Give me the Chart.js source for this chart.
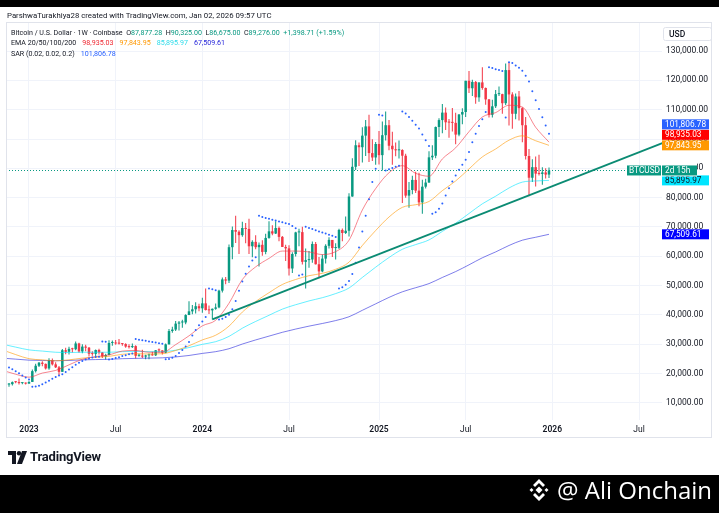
<!DOCTYPE html>
<html>
<head>
<meta charset="utf-8">
<title>BTCUSD 1W</title>
<script src="https://cdn.jsdelivr.net/npm/chart.js@4.4.1/dist/chart.umd.min.js"></script>
<style>
  html, body { margin: 0; padding: 0; background: #fff; }
  body { width: 719px; height: 513px; position: relative; overflow: hidden;
         font-family: Roboto, "Liberation Sans", sans-serif; color: #131722; }
  #chart { position: absolute; left: 0; top: 0; }
  .band { position: absolute; left: 0; width: 719px; background: #000; }
  .txt { position: absolute; white-space: nowrap; line-height: 1; }
  .legend { font-size: 7.1px; }
  .legend span { margin-left: 3.5px; }
  .legend.wide span { margin-left: 6px; }
  .up { color: #089981; }
</style>
</head>
<body>
<canvas id="chart" width="719" height="513"></canvas>

<div class="band" style="top:0;height:7px"></div>
<div class="txt" style="left:7px;top:12px;font-size:7.8px">ParshwaTurakhiya28 created with TradingView.com, Jan 02, 2026 09:57 UTC</div>
<div class="txt legend" style="left:11px;top:28.7px">Bitcoin / U.S. Dollar · 1W · Coinbase<span>O<b class="up" style="font-weight:400">87,877.28</b></span><span>H<b class="up" style="font-weight:400">90,325.00</b></span><span>L<b class="up" style="font-weight:400">86,675.00</b></span><span>C<b class="up" style="font-weight:400">89,276.00</b></span><span class="up">+1,398.71 (+1.59%)</span></div>
<div class="txt legend wide" style="left:11px;top:39.4px">EMA 20/50/100/200<span style="color:#f0262f">98,935.03</span><span style="color:#ff9800">97,843.95</span><span style="color:#2fdcea">85,895.97</span><span style="color:#1d1dd8">67,509.61</span></div>
<div class="txt legend wide" style="left:11px;top:49.7px">SAR (0.02, 0.02, 0.2)<span style="color:#2962ff">101,806.78</span></div>

<svg style="position:absolute;left:8px;top:451px" width="19" height="13" viewBox="0 0 19 13">
  <path d="M0 0h8v13h-4v-9h-4z" fill="#131722"/>
  <circle cx="11" cy="2.2" r="2.2" fill="#131722"/>
  <path d="M14 0h5l-5 13h-5z" fill="#131722"/>
</svg>
<div class="txt" style="left:30px;top:450px;font-size:13px;font-weight:700;letter-spacing:-0.2px">TradingView</div>

<div class="band" style="top:475px;height:38px"></div>
<svg style="position:absolute;left:527px;top:478px" width="24" height="24" viewBox="0 0 24 24">
  <g fill="#fff">
    <path d="M12 8.5l3.5 3.5-3.5 3.5-3.5-3.5z"/>
    <path d="M12 1l6 6-2 2-4-4-4 4-2-2z"/>
    <path d="M12 23l6-6-2-2-4 4-4-4-2 2z"/>
    <path d="M2.5 12l2-2 2 2-2 2z"/>
    <path d="M21.5 12l-2-2-2 2 2 2z"/>
  </g>
</svg>
<div class="txt" style="left:557px;top:478px;font-size:24px;color:#fff;font-family:'Open Sans',Roboto,sans-serif">@ Ali Onchain</div>

<script>
// weeks are counted from the week of 2 Jan 2023 (week 0); first candle is 21 Nov 2022
const firstWeek = -6;

// weekly candles [open, high, low, close], Coinbase BTC/USD
const candles = [
  [16290,16810,15510,16430],[16430,17320,16000,17110],[17110,17430,16750,17100],[17100,18390,16300,16780],
  [16780,16960,16400,16840],[16840,16970,16330,16610],
  // 2023
  [16610,17400,16540,17180],[17180,21440,17150,20860],[20860,23360,20410,22700],[22700,23950,22300,23740],
  [23740,24250,22550,23330],[23330,23440,21450,21780],[21780,25250,21350,24630],[24630,25130,22750,23170],
  [23170,23880,21970,22160],[22160,22600,19570,20620],[20620,28380,20610,27990],[27990,28870,26600,27470],
  [27470,29190,26530,28450],[28450,28800,27200,28320],[28320,31000,28000,30300],[30300,30500,27150,27580],
  [27580,30020,26950,29230],[29230,29850,27680,28850],[28850,29100,25810,26780],[26780,27650,26130,26750],
  [26750,28250,25880,28070],[28070,28450,26520,27230],[27230,27400,25350,25840],[25840,26800,24800,26340],
  [26340,31400,26250,30470],[30470,31280,29530,30580],[30580,31500,29850,30290],[30290,31800,29950,30240],
  [30240,30420,29550,30080],[30080,30330,28860,29230],[29230,30050,28580,29050],[29050,30240,28730,29400],
  [29400,29670,25170,26090],[26090,26800,25800,26100],[26100,28150,25350,25820],[25820,26450,24900,26220],
  [26220,26890,24930,26530],[26530,27480,26130,26250],[26250,28050,26000,27970],[27970,28600,27250,27930],
  [27930,27980,26540,27150],[27150,30300,26980,29990],[29990,35200,29900,34530],[34530,35980,33940,35030],
  [35030,37970,34530,37060],[37060,37980,34750,37450],[37450,38420,35630,37450],[37450,40250,36850,39980],
  [39980,44700,39980,41250],[41250,43400,40220,41940],[41940,44380,40550,43000],[43000,43820,41300,42280],
  // 2024
  [42280,45920,40750,43970],[43970,49000,41500,41700],[41700,43200,40300,41580],[41580,42250,38500,42120],
  [42120,43880,41800,42580],[42580,48600,42260,48300],[48300,52800,47700,52140],[52140,52980,50520,51730],
  [51730,64000,50900,63120],[63120,70170,59000,68960],[68960,73800,64550,68390],[68390,68900,60800,67220],
  [67220,71760,66650,69650],[69650,71340,64500,69350],[69350,72800,60800,63430],[63430,65500,59700,64940],
  [64940,67200,62440,63120],[63120,64700,56500,63930],[63930,65500,60200,61500],[61500,67700,60750,66270],
  [66270,71980,66000,68530],[68530,70600,67150,67770],[67770,71990,67600,69650],[69650,70200,65100,66630],
  [66630,66950,63150,63200],[63200,63950,58400,62720],[62720,63800,53500,55850],[55850,61400,54300,60800],
  [60800,68400,59900,68160],[68160,69400,63400,68250],[68250,70100,57200,58120],[58120,62700,49050,58710],
  [58710,61800,56100,58930],[58930,65050,57800,64220],[64220,64900,57200,57300],[57300,59800,52550,54860],
  [54860,60600,54600,59220],[59220,64100,57550,63580],[63580,66500,62700,65600],[65600,65600,59800,62820],
  [62820,64500,58900,62900],[62900,69400,62500,69000],[69000,69500,65100,67950],[67950,73600,67600,68720],
  [68720,81500,66800,80400],[80400,93480,80300,90530],[90530,99600,89400,97870],[97870,98800,90800,97200],
  [97200,104000,92000,101150],[101150,106500,94200,104300],[104300,108300,92200,95200],[95200,99900,92500,93700],
  [93700,99000,91200,98300],
  // 2025
  [98300,102700,91300,94500],[94500,106000,89300,101300],[101300,109350,99500,104700],[104700,106450,96200,97700],
  [97700,102500,91200,96500],[96500,98800,94100,96150],[96150,99500,93350,96250],[96250,96500,78200,94300],
  [94300,95000,80000,80700],[80700,85300,76600,82600],[82600,87450,81150,86050],[86050,88800,81600,82400],
  [82400,88500,77100,78400],[78400,86100,74500,83750],[83750,86450,83100,85150],[85150,95800,85100,93750],
  [93750,97900,92800,94300],[94300,104300,93400,104100],[104100,107100,100700,106450],[106450,111970,102000,109000],
  [109000,110700,103100,105700],[105700,106800,100400,105600],[105600,110600,102600,105500],[105500,108950,98200,101500],
  [101500,108500,100900,108350],[108350,110500,105050,109200],[109200,119900,107500,119850],[119850,123200,115700,117300],
  [117300,120200,114700,119450],[119450,119800,112000,114200],[114200,119300,112700,119300],[119300,124500,116800,117400],
  [117400,117600,111700,113500],[113500,113600,107300,108250],[108250,113400,107300,111150],[111150,116700,110600,115300],
  [115300,117900,114700,115300],[115300,115400,108600,112200],[112200,125700,111600,123500],[123500,126200,104600,115200],
  [115200,115900,103500,108600],[108600,115500,106700,114500],[114500,116400,106300,110500],[110500,110800,98900,104700],
  [104700,107500,93000,94200],[94200,96600,80500,86800],[86800,93100,85300,90400],[90400,94000,83800,88200],
  [88200,94600,87600,88100],[88100,90400,84400,88600],[88600,90000,86500,87877.28],[87877.28,90325,86675,89276]
];

// parabolic SAR, one dot per candle
const sar = [
  22100,21500,20800,20100,19400,18700,18000,
  15500,15600,15900,16400,17000,17600,18300,18900,19400,19800,20600,21400,22200,23000,23700,24300,24800,25200,25500,25700,25800,
  31000,30900,
  24800,25000,25300,25600,26000,26300,26600,26900,
  31800,31600,31400,31200,31000,30800,30600,30400,30200,
  24900,25000,25400,26000,27000,28100,29300,30800,33000,34900,36500,37800,39300,
  49000,48800,48400,
  38500,38700,39300,40100,42000,44800,48300,51400,54100,56500,58600,59700,
  73800,73450,73100,72800,72500,72200,71900,71600,71300,71000,70300,69600,
  53500,53800,
  70100,69700,69300,68900,68500,68100,67800,67400,67000,66600,
  49050,49500,50300,51600,54000,57800,63000,68500,73800,79500,85300,89900,
  108300,108000,
  89300,89700,90100,90500,90900,
  109350,108700,107500,106200,104900,103600,101500,99600,97600,
  74500,75000,76200,78000,80700,83200,85500,87600,89500,91200,92900,95600,98900,101800,104400,106700,109200,
  124500,124200,123800,123500,123200,
  107300,
  126200,125900,125100,124300,123300,121600,119600,116300,113200,110200,107400,104600,101806.78
];

// EMA readings, sampled every four weeks
const emaWeeks = [-7,-4,0,4,8,12,16,20,24,28,32,36,40,44,48,52,56,60,64,68,72,76,80,84,88,92,96,100,104,108,112,116,120,124,128,132,136,140,144,148,152,156];
const ema20 = [20800,19800,18800,20200,21100,23000,24900,25800,26400,27700,27900,27300,27300,29900,32900,36300,38200,44000,52100,56400,59300,61800,61800,61500,60600,61600,65500,75800,83100,88500,90900,88300,87300,93200,97000,102500,107500,109000,111500,110900,104000,98935.03];
const ema50 = [27700,26500,25100,24700,24400,24700,25300,25600,25900,26600,26800,26700,26800,27900,29500,31500,33100,36200,41000,44600,47600,50400,52100,53400,54200,55600,58000,63700,68800,73400,76700,77600,78700,82400,85700,89800,93900,96600,99600,101100,99400,97843.95];
const ema100 = [29800,29050,28100,27700,27300,27200,27300,27300,27300,27500,27600,27500,27500,28000,28900,30000,30900,32700,35500,37800,39900,42000,43500,44800,45900,47300,49200,52800,56300,59600,62400,64000,65600,68500,71300,74600,77900,80500,83300,85300,85700,85895.97];
const ema200 = [25200,24950,24600,24500,24400,24500,24700,24800,24900,25100,25200,25300,25400,25700,26200,26900,27500,28500,30100,31500,32800,34100,35200,36200,37100,38100,39400,41600,43800,46000,47900,49300,50700,52800,54800,57100,59500,61500,63700,65500,66500,67509.61];

// support trendline drawn on the chart (week, price)
const trendWeeks = [55, 190];
const trendPrices = [38500, 98600];

// axis ticks
const xTickWeeks = [0, 26, 52, 78, 105, 131, 157, 183];
const xTickLabels = ["2023", "Jul", "2024", "Jul", "2025", "Jul", "2026", "Jul"];
const priceTicks = [10000, 20000, 30000, 40000, 50000, 60000, 70000, 80000, 90000, 100000, 110000, 120000, 130000];

const UP = "#089981";
const DOWN = "#f23645";
const FONT = "Roboto, 'Liberation Sans', sans-serif";

const fmt = (v) => v.toLocaleString("en-US", { minimumFractionDigits: 2, maximumFractionDigits: 2 });
const lastClose = candles[candles.length - 1][3];
const candleColor = (ctx) => {
  const c = candles[ctx.dataIndex];
  return c && c[3] >= c[0] ? UP : DOWN;
};
const points = (weeks, values) => values.map((v, i) => ({ x: weeks[i], y: v }));

// tags on the price scale: sar + the four emas
const axisTags = [
  { value: sar[sar.length - 1], bg: "#2962ff", fg: "#ffffff" },
  { value: ema20[ema20.length - 1], bg: "#ff0000", fg: "#ffffff" },
  { value: ema50[ema50.length - 1], bg: "#ff9800", fg: "#ffffff" },
  { value: ema100[ema100.length - 1], bg: "#00e5ff", fg: "#131722" },
  { value: ema200[ema200.length - 1], bg: "#0000ff", fg: "#ffffff" },
];

function roundRect(ctx, x, y, w, h, r) {
  ctx.beginPath();
  ctx.moveTo(x + r, y);
  ctx.arcTo(x + w, y, x + w, y + h, r);
  ctx.arcTo(x + w, y + h, x, y + h, r);
  ctx.arcTo(x, y + h, x, y, r);
  ctx.arcTo(x, y, x + w, y, r);
  ctx.closePath();
}

const chartDecor = {
  id: "chartDecor",
  beforeDatasetsDraw(chart) {
    // dotted last price line
    const { ctx, chartArea: a, scales } = chart;
    const py = Math.round(scales.y.getPixelForValue(lastClose)) + 0.5;
    ctx.save();
    ctx.strokeStyle = UP;
    ctx.lineWidth = 1;
    ctx.setLineDash([1, 2]);
    ctx.beginPath();
    ctx.moveTo(a.left, py);
    ctx.lineTo(a.right, py);
    ctx.stroke();
    ctx.restore();
  },
  afterDraw(chart) {
    const { ctx, chartArea: a, scales } = chart;
    ctx.save();
    ctx.strokeStyle = "#e0e3eb";
    ctx.lineWidth = 1;
    ctx.strokeRect(6.5, 22.5, 705, 415);

    roundRect(ctx, 663.5, 27.5, 48, 13, 2);
    ctx.stroke();
    ctx.fillStyle = "#131722";
    ctx.font = "500 8.5px " + FONT;
    ctx.textBaseline = "middle";
    ctx.fillText("USD", 669, 34.5);

    // stack the tags so they do not overlap, from the bottom up
    const h = 10;
    const tags = axisTags
      .map((t) => ({ ...t, y: scales.y.getPixelForValue(t.value) }))
      .sort((p, q) => q.y - p.y);
    let prev = Infinity;
    ctx.font = "8.3px " + FONT;
    tags.forEach((t) => {
      const yc = Math.min(t.y, prev - h - 0.5);
      prev = yc;
      ctx.fillStyle = t.bg;
      ctx.fillRect(a.right, yc - h / 2, 47, h);
      ctx.fillStyle = t.fg;
      ctx.fillText(fmt(t.value), a.right + 3, yc + 0.5);
    });

    // current price tag with symbol and countdown
    const yp = scales.y.getPixelForValue(lastClose);
    ctx.fillStyle = "#ffffff";
    ctx.fillRect(a.right, yp - 8, 35, 14);
    ctx.fillStyle = UP;
    ctx.fillRect(a.right - 35, yp - h / 2, 34, h);
    ctx.fillRect(a.right, yp - h / 2, 35, h);
    ctx.fillStyle = "#ffffff";
    ctx.fillText("BTCUSD", a.right - 33, yp + 0.5);
    ctx.fillText("2d 15h", a.right + 3, yp + 0.5);
    ctx.restore();
  },
};

const weeksOf = (arr) => arr.map((_, i) => firstWeek + i);
const candleWeeks = weeksOf(candles);

new Chart(document.getElementById("chart"), {
  type: "bar",
  data: {
    datasets: [
      {
        type: "line",
        data: points(trendWeeks, trendPrices),
        borderColor: "#0b8b73",
        borderWidth: 1.8,
        pointRadius: 0,
        order: 0,
      },
      {
        type: "line",
        data: points(candleWeeks, sar),
        showLine: false,
        pointRadius: 1,
        pointBorderWidth: 0,
        pointBackgroundColor: "#2962ff",
        order: 1,
      },
      {
        type: "line",
        data: points(emaWeeks, ema20),
        borderColor: "rgba(242,54,69,0.6)",
        borderWidth: 1,
        pointRadius: 0,
        cubicInterpolationMode: "monotone",
        order: 2,
      },
      {
        type: "line",
        data: points(emaWeeks, ema50),
        borderColor: "rgba(255,152,0,0.6)",
        borderWidth: 1,
        pointRadius: 0,
        cubicInterpolationMode: "monotone",
        order: 3,
      },
      {
        type: "line",
        data: points(emaWeeks, ema100),
        borderColor: "rgba(0,229,255,0.6)",
        borderWidth: 1,
        pointRadius: 0,
        cubicInterpolationMode: "monotone",
        order: 4,
      },
      {
        type: "line",
        data: points(emaWeeks, ema200),
        borderColor: "rgba(40,40,220,0.6)",
        borderWidth: 1,
        pointRadius: 0,
        cubicInterpolationMode: "monotone",
        order: 5,
      },
      {
        // bodies
        data: candles.map((c, i) => ({ x: candleWeeks[i], y: [Math.min(c[0], c[3]), Math.max(c[0], c[3])] })),
        backgroundColor: candleColor,
        barThickness: 2.5,
        minBarLength: 1,
        grouped: false,
        inflateAmount: 0,
        order: 6,
      },
      {
        // wicks
        data: candles.map((c, i) => ({ x: candleWeeks[i], y: [c[2], c[1]] })),
        backgroundColor: candleColor,
        barThickness: 1,
        grouped: false,
        inflateAmount: 0,
        order: 7,
      },
    ],
  },
  options: {
    responsive: false,
    animation: false,
    events: [],
    layout: { padding: { left: 6, top: 23, right: 7, bottom: 75 } },
    plugins: { legend: { display: false }, tooltip: { enabled: false } },
    scales: {
      x: {
        type: "linear",
        min: -6.9,
        max: 189.9,
        offset: false,
        grid: { color: "#f0f3fa", drawTicks: false, offset: false },
        border: { display: false },
        afterBuildTicks: (s) => { s.ticks = xTickWeeks.map((v) => ({ value: v })); },
        afterFit: (s) => { s.height = 18; },
        ticks: {
          autoSkip: false,
          maxRotation: 0,
          padding: 5,
          color: "#131722",
          callback: (v) => xTickLabels[xTickWeeks.indexOf(v)],
          font: (ctx) => {
            const lab = ctx.tick ? xTickLabels[xTickWeeks.indexOf(ctx.tick.value)] : "";
            return { family: FONT, size: 8.5, weight: /^\d/.test(lab || "") ? "600" : "400" };
          },
        },
      },
      y: {
        position: "right",
        min: 4200,
        max: 139550,
        grid: { color: "#f0f3fa", drawTicks: false },
        border: { display: false },
        afterBuildTicks: (s) => { s.ticks = priceTicks.map((v) => ({ value: v })); },
        afterFit: (s) => { s.width = 50; },
        ticks: {
          padding: 4,
          color: "#131722",
          font: { family: FONT, size: 8.5 },
          callback: (v) => fmt(v),
        },
      },
    },
  },
  plugins: [chartDecor],
});
</script>
</body>
</html>
